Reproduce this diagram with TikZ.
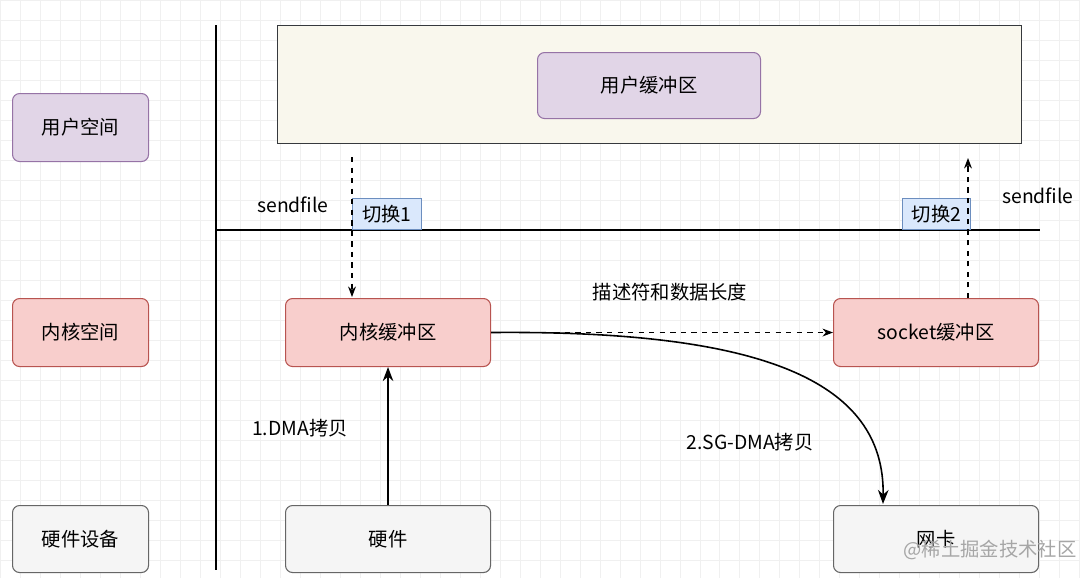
\documentclass[tikz,border=0pt]{standalone}
\usepackage{fontspec}
\setmainfont{Noto Sans CJK SC}
\usetikzlibrary{arrows.meta}
\begin{document}
\begin{tikzpicture}[x=0.02cm,y=-0.02cm,font=\fontsize{11}{13}\selectfont,
  box/.style={draw,rounded corners=4pt,line width=0.6pt,anchor=north west},
  pbox/.style={box,fill={rgb,255:red,225;green,213;blue,231},draw={rgb,255:red,150;green,115;blue,166}},
  rbox/.style={box,fill={rgb,255:red,248;green,206;blue,204},draw={rgb,255:red,184;green,84;blue,80}},
  gbox/.style={box,fill={rgb,255:red,245;green,245;blue,245},draw={rgb,255:red,102;green,102;blue,102}},
  bbox/.style={draw={rgb,255:red,108;green,142;blue,191},fill={rgb,255:red,218;green,232;blue,252},anchor=north west,inner sep=0pt,line width=0.6pt},
  darr/.style={dashed,-{Stealth[length=6pt]},line width=0.6pt},
  sarr/.style={-{Stealth[length=8pt]},line width=0.9pt}]
\useasboundingbox (0,0) rectangle (1080,578);
\fill[white] (0,0) rectangle (1080,578);
\draw[gray!12,step=0.4cm] (0,0) grid (1080,578);
\draw[line width=0.8pt] (216,25) -- (216,570);
\draw[line width=0.8pt] (216,230) -- (1040,230);
\node[pbox,minimum width=136*0.02cm,minimum height=68*0.02cm] (us) at (12,93) {};
\node at (us.center) {用户空间};
\node[rbox,minimum width=136*0.02cm,minimum height=68*0.02cm] (ks) at (12,298) {};
\node at (ks.center) {内核空间};
\node[gbox,minimum width=136*0.02cm,minimum height=67*0.02cm] (hs) at (12,505) {};
\node at (hs.center) {硬件设备};
\node[draw={rgb,255:red,54;green,57;blue,61},fill={rgb,255:red,249;green,247;blue,237},anchor=north west,minimum width=744*0.02cm,minimum height=118*0.02cm,line width=0.6pt] (big) at (277,25) {};
\node[pbox,minimum width=223*0.02cm,minimum height=66*0.02cm] (ub) at (537,52) {};
\node at (ub.center) {用户缓冲区};
\node[rbox,minimum width=205*0.02cm,minimum height=68*0.02cm] (kb) at (285,298) {};
\node at (kb.center) {内核缓冲区};
\node[rbox,minimum width=205*0.02cm,minimum height=68*0.02cm] (sb) at (833,298) {};
\node at (sb.center) {socket缓冲区};
\node[gbox,minimum width=205*0.02cm,minimum height=67*0.02cm] (hw) at (285,505) {};
\node at (hw.center) {硬件};
\node[gbox,minimum width=205*0.02cm,minimum height=67*0.02cm] (nc) at (833,505) {};
\node at (nc.center) {网卡};
\node[bbox,minimum width=69*0.02cm,minimum height=31*0.02cm] (q1) at (352,198) {};
\node at (q1.center) {切换1};
\node[bbox,minimum width=68*0.02cm,minimum height=31*0.02cm] (q2) at (902,198) {};
\node at (q2.center) {切换2};
\coordinate (a1) at (352,157);
\coordinate (b1) at (352,297);
\coordinate (a2) at (968,158);
\coordinate (b2) at (968,298);
\coordinate (c1) at (883,504);
\draw[darr] (a1) -- (b1);
\draw[darr] (b2) -- (a2);
\draw[darr] (kb.east) -- (sb.west);
\draw[sarr] (hw.north) -- (kb.south);
\draw[sarr] (kb.east) .. controls (760,330) and (885,380) .. (c1);
\node (t1) at (293,205) {sendfile};
\node (t2) at (1038,196) {sendfile};
\node (t3) at (670,292) {描述符和数据长度};
\node (t4) at (300,428) {1.DMA拷贝};
\node (t5) at (750,442) {2.SG-DMA拷贝};
\node[text=gray!70] (wm) at (990,550) {@稀土掘金技术社区};
\end{tikzpicture}
\end{document}
